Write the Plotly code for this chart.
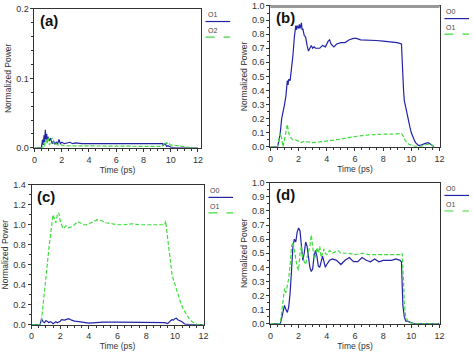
import plotly.graph_objects as go

# ---------------- data ----------------
# Panel (a)
a_o1_t = [0, 0.5, 0.6, 0.65, 0.7, 0.75, 0.8, 0.85, 0.9, 0.95, 1.0, 1.1, 1.2, 1.3, 1.4, 1.5, 1.6, 1.7, 1.8, 1.9, 2.0, 2.2, 2.4, 2.6, 2.8, 3.0, 3.5, 4.0, 5.0, 6.0, 7.0, 8.0, 9.0, 9.4, 9.45, 9.5, 9.6, 9.7, 9.8, 10.0, 10.2, 10.5, 11.0, 12.0]
a_o1_v = [0, 0, 0.012, 0.004, 0.018, 0.008, 0.026, 0.012, 0.02, 0.008, 0.016, 0.01, 0.014, 0.006, 0.01, 0.005, 0.008, 0.006, 0.012, 0.006, 0.008, 0.006, 0.007, 0.008, 0.006, 0.007, 0.006, 0.006, 0.006, 0.006, 0.006, 0.006, 0.006, 0.006, 0.003, 0.005, 0.006, 0.002, 0.003, 0.001, 0.0005, 0, 0, 0]
a_o2_t = [0, 0.6, 0.7, 0.75, 0.8, 0.9, 1.0, 1.1, 1.2, 1.3, 1.4, 1.5, 1.7, 1.9, 2.1, 2.5, 3.0, 4.0, 5.0, 6.0, 7.0, 8.0, 9.0, 9.4, 9.5, 9.6, 9.7, 9.8, 9.9, 10.0, 10.2, 10.5, 10.8, 11.2, 11.6, 12.0]
a_o2_v = [0, 0, 0.008, 0.002, 0.012, 0.006, 0.015, 0.004, 0.01, 0.014, 0.006, 0.008, 0.004, 0.005, 0.003, 0.003, 0.002, 0.002, 0.002, 0.002, 0.002, 0.002, 0.002, 0.002, 0.006, 0.004, 0.008, 0.005, 0.006, 0.004, 0.004, 0.003, 0.002, 0.001, 0, 0]

# Panel (b)
b_o0_t = [0, 0.5, 0.6, 0.7, 0.8, 0.9, 1.0, 1.1, 1.2, 1.25, 1.3, 1.4, 1.5, 1.6, 1.7, 1.8, 1.85, 1.9, 2.0, 2.05, 2.1, 2.2, 2.25, 2.3, 2.4, 2.5, 2.6, 2.7, 2.8, 2.9, 3.0, 3.1, 3.2, 3.3, 3.5, 3.7, 3.9, 4.1, 4.2, 4.3, 4.5, 4.7, 5.0, 5.3, 5.6, 5.9, 6.1, 6.4, 6.7, 7.0, 7.5, 8.0, 8.5, 9.0, 9.3, 9.35, 9.4, 9.45, 9.5, 9.6, 9.7, 9.8, 9.9, 10.0, 10.1, 10.2, 10.3, 10.4, 10.5, 10.6, 10.8, 11.0, 11.2, 11.4, 11.5, 11.6]
b_o0_v = [0, 0, 0.04, 0.1, 0.2, 0.24, 0.3, 0.36, 0.47, 0.44, 0.48, 0.47, 0.55, 0.65, 0.78, 0.86, 0.83, 0.86, 0.84, 0.87, 0.84, 0.88, 0.83, 0.84, 0.79, 0.78, 0.72, 0.68, 0.7, 0.72, 0.7, 0.71, 0.7, 0.7, 0.7, 0.72, 0.71, 0.75, 0.76, 0.73, 0.71, 0.73, 0.74, 0.74, 0.76, 0.77, 0.77, 0.76, 0.76, 0.76, 0.755, 0.75, 0.745, 0.74, 0.73, 0.6, 0.42, 0.4, 0.33, 0.28, 0.22, 0.18, 0.14, 0.1, 0.07, 0.05, 0.03, 0.02, 0.01, 0.01, 0.02, 0.025, 0.03, 0.02, 0.01, 0]
b_o1_t = [0, 0.5, 0.6, 0.7, 0.8, 0.9, 1.0, 1.1, 1.2, 1.3, 1.4, 1.5, 1.6, 1.8, 2.0, 2.2, 2.4, 2.6, 3.0, 3.5, 4.0, 4.5, 5.0, 5.5, 6.0, 6.5, 7.0, 7.5, 8.0, 8.5, 9.0, 9.3, 9.4, 9.5, 9.6, 9.8, 10.0, 10.2, 10.5, 10.8, 11.0, 11.3, 11.5, 11.6]
b_o1_v = [0, 0, 0.05, 0.1, 0.06, 0.0, 0.05, 0.12, 0.16, 0.1, 0.07, 0.06, 0.05, 0.05, 0.04, 0.03, 0.04, 0.035, 0.03, 0.035, 0.04, 0.05, 0.055, 0.065, 0.075, 0.08, 0.085, 0.09, 0.09, 0.09, 0.09, 0.095, 0.08, 0.06, 0.04, 0.02, 0.01, 0.005, 0, 0.005, 0.015, 0.02, 0.01, 0]

# Panel (c)
c_o0_t = [0, 0.6, 0.7, 0.8, 0.9, 1.0, 1.1, 1.2, 1.3, 1.4, 1.5, 1.6, 1.7, 1.8, 1.9, 2.0, 2.1, 2.3, 2.5, 2.6, 2.8, 3.0, 3.3, 3.6, 4.0, 4.5, 5.0, 6.0, 7.0, 8.0, 9.0, 9.3, 9.5, 9.6, 9.7, 9.8, 9.9, 10.0, 10.1, 10.2, 10.3, 10.5, 10.7, 11.0, 12.0]
c_o0_v = [0, 0, 0.06, 0.03, 0.02, 0.04, 0.035, 0.02, 0.03, 0.025, 0.01, 0.025, 0.03, 0.02, 0.025, 0.035, 0.05, 0.045, 0.055, 0.06, 0.045, 0.035, 0.03, 0.025, 0.015, 0.02, 0.025, 0.025, 0.025, 0.025, 0.025, 0.02, 0.01, 0.03, 0.04, 0.05, 0.045, 0.06, 0.065, 0.05, 0.045, 0.03, 0.005, 0, 0]
c_o1_t = [0, 0.6, 0.7, 0.8, 0.9, 1.0, 1.1, 1.2, 1.3, 1.4, 1.5, 1.6, 1.7, 1.8, 1.9, 2.0, 2.1, 2.2, 2.4, 2.6, 2.8, 3.0, 3.2, 3.4, 3.6, 3.8, 4.0, 4.3, 4.6, 4.9, 5.2, 5.6, 6.0, 6.5, 7.0, 7.5, 8.0, 8.5, 9.0, 9.3, 9.35, 9.4, 9.5, 9.6, 9.7, 9.8, 9.9, 10.0, 10.1, 10.2, 10.4, 10.6, 10.8, 11.0, 11.2, 11.4, 11.6, 12.0]
c_o1_v = [0, 0, 0.05, 0.18, 0.32, 0.42, 0.6, 0.75, 0.88, 1.02, 1.1, 1.06, 1.02, 1.1, 1.12, 1.04, 1.0, 0.96, 0.99, 0.97, 0.98, 1.0, 1.03, 1.02, 1.0, 1.0, 1.01, 1.03, 1.05, 1.04, 1.02, 1.01, 1.0, 1.0, 1.01, 1.0, 1.0, 1.0, 1.0, 1.0, 1.04, 0.98, 0.9, 0.78, 0.62, 0.5, 0.45, 0.4, 0.36, 0.3, 0.22, 0.15, 0.1, 0.06, 0.03, 0.015, 0, 0]

# Panel (d)
d_o0_t = [0, 0.7, 0.8, 0.9, 1.0, 1.1, 1.2, 1.3, 1.4, 1.5, 1.6, 1.7, 1.8, 1.9, 2.0, 2.1, 2.2, 2.3, 2.4, 2.5, 2.6, 2.7, 2.8, 2.9, 3.0, 3.1, 3.2, 3.3, 3.4, 3.5, 3.6, 3.7, 3.8, 3.9, 4.0, 4.2, 4.4, 4.7, 5.0, 5.3, 5.6, 5.9, 6.2, 6.5, 6.8, 7.1, 7.4, 7.7, 8.0, 8.3, 8.6, 8.9, 9.2, 9.3, 9.35, 9.4, 9.5, 9.6, 9.8, 10.0, 10.2, 12.0]
d_o0_v = [0, 0, 0.04, 0.1, 0.13, 0.1, 0.08, 0.12, 0.22, 0.38, 0.55, 0.6, 0.58, 0.65, 0.68, 0.66, 0.55, 0.45, 0.5, 0.58, 0.55, 0.45, 0.4, 0.37, 0.39, 0.48, 0.52, 0.48, 0.41, 0.4, 0.44, 0.48, 0.44, 0.4, 0.42, 0.45, 0.46, 0.45, 0.42, 0.45, 0.47, 0.44, 0.44, 0.47, 0.45, 0.44, 0.46, 0.44, 0.45, 0.45, 0.45, 0.46, 0.45, 0.44, 0.3, 0.13, 0.05, 0.02, 0.015, 0.01, 0, 0]
d_o1_t = [0, 0.7, 0.8, 0.9, 1.0, 1.1, 1.2, 1.3, 1.4, 1.5, 1.6, 1.7, 1.8, 1.9, 2.0, 2.1, 2.2, 2.3, 2.4, 2.5, 2.6, 2.7, 2.8, 2.9, 3.0, 3.1, 3.2, 3.3, 3.4, 3.5, 3.6, 3.7, 3.8, 3.9, 4.0, 4.2, 4.4, 4.6, 4.8, 5.0, 5.5, 6.0, 6.5, 7.0, 7.5, 8.0, 8.5, 9.0, 9.3, 9.35, 9.4, 9.45, 9.5, 9.6, 9.8, 10.2, 12.0]
d_o1_v = [0, 0, 0.08, 0.16, 0.25, 0.22, 0.28, 0.32, 0.42, 0.55, 0.58, 0.52, 0.45, 0.4, 0.38, 0.5, 0.55, 0.47, 0.44, 0.42, 0.47, 0.52, 0.55, 0.63, 0.55, 0.46, 0.48, 0.54, 0.5, 0.55, 0.47, 0.51, 0.53, 0.5, 0.49, 0.52, 0.5, 0.51, 0.52, 0.5, 0.5, 0.49, 0.5, 0.49, 0.49, 0.49, 0.49, 0.49, 0.49, 0.5, 0.42, 0.3, 0.15, 0.05, 0.01, 0, 0]

panel_labels = ["(a)", "(b)", "(c)", "(d)"]
legend_names = [["O1", "O2"], ["O0", "O1"], ["O0", "O1"], ["O0", "O1"]]
y_ranges = [[0, 0.2], [0, 1.0], [0, 1.4], [0, 1.0]]
y_dticks = [0.1, 0.1, 0.2, 0.1]
y_minor = [0.02, 0.05, 0.1, 0.05]
x_ranges = [[0, 12.2], [0, 12], [0, 12], [0, 12]]
x_title = "Time (ps)"
y_title = "Normalized Power"

# ---------------- style ----------------
W, H = 474, 353
BLUE = "#2323a8"
GREEN = "#3ddc3d"
FONT = "Liberation Sans, Arial, sans-serif"
# plot frames in pixels: (left, right, top, bottom)
frames = [(32, 201, 4, 147), (272, 444, 1, 146), (29, 204, 185, 329), (272, 444, 183, 328)]

series = [
    (a_o1_t, a_o1_v, a_o2_t, a_o2_v),
    (b_o0_t, b_o0_v, b_o1_t, b_o1_v),
    (c_o0_t, c_o0_v, c_o1_t, c_o1_v),
    (d_o0_t, d_o0_v, d_o1_t, d_o1_v),
]

fig = go.Figure()
annotations = []
shapes = []
for i, (t1, v1, t2, v2) in enumerate(series):
    n = i + 1
    xa = "x" if n == 1 else f"x{n}"
    ya = "y" if n == 1 else f"y{n}"
    fig.add_trace(go.Scatter(x=t1, y=v1, mode="lines", xaxis=xa, yaxis=ya,
                             line=dict(color=BLUE, width=1.2), showlegend=False))
    fig.add_trace(go.Scatter(x=t2, y=v2, mode="lines", xaxis=xa, yaxis=ya,
                             line=dict(color=GREEN, width=1.2, dash="4px,2px"), showlegend=False))
    l, r, t, b = frames[i]
    xd = [l / W, r / W]
    yd = [(H - b) / H, (H - t) / H]
    common = dict(showline=True, linecolor="#333", linewidth=1, mirror=True,
                  ticks="outside", ticklen=3, tickcolor="#333", showgrid=False,
                  zeroline=False, tickfont=dict(family=FONT, size=9, color="#333"))
    fig.layout[f"xaxis{'' if n == 1 else n}"] = dict(
        domain=xd, anchor=ya, range=x_ranges[i], dtick=2, tick0=0,
        minor=dict(dtick=0.5, ticks="outside", ticklen=2, tickcolor="#333"),
        title=dict(text=x_title, font=dict(family=FONT, size=8.5, color="#333"), standoff=2),
        **common)
    fig.layout[f"yaxis{'' if n == 1 else n}"] = dict(
        domain=yd, anchor=xa, range=y_ranges[i], dtick=y_dticks[i], tick0=0,
        tickformat=".1f",
        minor=dict(dtick=y_minor[i], ticks="outside", ticklen=2, tickcolor="#333"),
        title=dict(text=y_title, font=dict(family=FONT, size=8.5, color="#333"), standoff=3),
        **common)
    # panel label
    annotations.append(dict(text=f"<b>{panel_labels[i]}</b>", xref=f"{xa} domain", yref=f"{ya} domain",
                            x=0.02, y=0.99, xanchor="left", yanchor="top", showarrow=False,
                            font=dict(family=FONT, size=15, color="#111")))
    # legend (text above sample line)
    lx0 = (r + 5) / W
    lx1 = min(r + 30, W) / W
    for k, (nm, col, dash) in enumerate([(legend_names[i][0], BLUE, "solid"),
                                          (legend_names[i][1], GREEN, "dash")]):
        ty = t + 6 + k * 16
        annotations.append(dict(text=nm, xref="paper", yref="paper", x=lx0, y=(H - ty) / H,
                                xanchor="left", yanchor="middle", showarrow=False,
                                font=dict(family=FONT, size=7, color="#444")))
        shapes.append(dict(type="line", xref="paper", yref="paper", x0=lx0, x1=lx1,
                           y0=(H - ty - 7) / H, y1=(H - ty - 7) / H,
                           line=dict(color=col, width=1.2, dash=dash)))

# grey top bar of panel (b)
shapes.append(dict(type="rect", xref="paper", yref="paper", x0=272 / W, x1=444 / W,
                   y0=(H - 3) / H, y1=1, fillcolor="#999", line=dict(width=0)))

fig.update_layout(width=W, height=H, margin=dict(l=0, r=0, t=0, b=0),
                  paper_bgcolor="white", plot_bgcolor="white",
                  annotations=annotations, shapes=shapes,
                  font=dict(family=FONT, size=8, color="#333"))
fig.write_html("out.html")
